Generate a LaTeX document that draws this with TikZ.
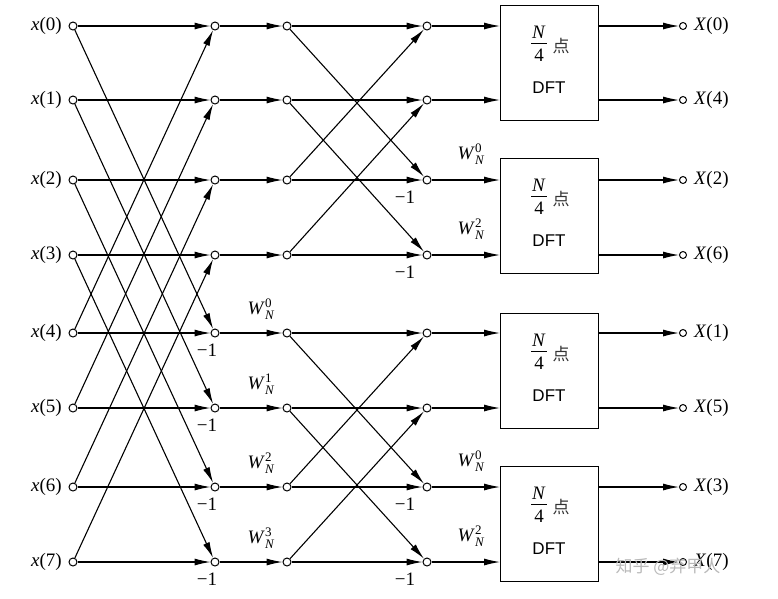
\documentclass[tikz,border=0pt]{standalone}
\usepackage{fontspec}
\setmainfont{Liberation Serif}
\newfontfamily\sansf{Liberation Sans}
\newfontfamily\cjk{Noto Sans CJK SC}
\usetikzlibrary{arrows.meta}
\newcommand\wlab[1]{\textit{W}\raisebox{-5pt}{\makebox[0pt][l]{\raisebox{12pt}{\fontsize{13}{14}\selectfont #1}}\fontsize{13}{14}\selectfont\textit{N}}}
\begin{document}
\begin{tikzpicture}[x=1pt,y=-1pt,
  pt/.style={circle,draw,line width=1pt,inner sep=0pt,minimum size=8pt,fill=white},
  ar/.style={line width=1.1pt,-{Latex[length=16pt,width=7pt]}},
  lab/.style={font=\fontsize{19}{21}\selectfont,inner sep=1pt},
  wl/.style={font=\fontsize{19}{21}\selectfont,inner sep=1pt},
  box/.style={draw,line width=1pt,minimum width=98pt,minimum height=115pt,inner sep=0pt}]
\useasboundingbox (0,0) rectangle (778,598);
\def\ys{{26,100,180,255,333,408,487,562}}
\foreach \i in {0,...,7}{
  \pgfmathsetmacro\yy{\ys[\i]}
  \node[pt] (a\i) at (73,\yy) {};
  \node[pt] (b\i) at (215,\yy) {};
  \node[pt] (c\i) at (287,\yy) {};
  \node[pt] (d\i) at (427,\yy) {};
  \node[lab,anchor=east] at (63,\yy) {\textit{x}(\i)};
}
\foreach \i in {0,...,3}{
  \pgfmathtruncatemacro\j{\i+4}
  \draw[ar] (a\i) -- (b\i);
  \draw[ar] (a\i) -- (b\j);
  \draw[ar] (a\j) -- (b\i);
  \draw[ar] (a\j) -- (b\j);
}
\foreach \i in {0,...,7}{\draw[ar] (b\i) -- (c\i);}
\foreach \g in {0,4}{
 \foreach \k in {0,1}{
  \pgfmathtruncatemacro\p{\g+\k}
  \pgfmathtruncatemacro\q{\g+\k+2}
  \draw[ar] (c\p) -- (d\p);
  \draw[ar] (c\p) -- (d\q);
  \draw[ar] (c\q) -- (d\p);
  \draw[ar] (c\q) -- (d\q);
 }}
\foreach \i in {4,...,7}{
  \pgfmathsetmacro\yy{\ys[\i]}
  \node[lab] at (207,\yy+17) {−1};}
\foreach \i in {2,3,6,7}{
  \pgfmathsetmacro\yy{\ys[\i]}
  \node[lab] at (405,\yy+17) {−1};}
\foreach \i/\e in {4/0,5/1,6/2,7/3}{
  \pgfmathsetmacro\yy{\ys[\i]}
  \node[wl] at (261,\yy-24) {\wlab{\e}};}
\foreach \i/\e in {2/0,3/2,6/0,7/2}{
  \pgfmathsetmacro\yy{\ys[\i]}
  \node[wl] at (471,\yy-26) {\wlab{\e}};}
\foreach \b/\yc/\r/\s/\ka/\kb in {1/62.5/0/1/0/4,2/215.5/2/3/2/6,3/370.5/4/5/1/5,4/523.5/6/7/3/7}{
  \node[box] (B\b) at (549,\yc) {};
  \node[lab] at (539,\yc-30) {\textit{N}};
  \draw[line width=0.8pt] (531,\yc-19) -- (547,\yc-19);
  \node[lab] at (539,\yc-7) {4};
  \node[font=\cjk\fontsize{17}{19}\selectfont,text=black!80] at (561,\yc-16) {点};
  \node[font=\sansf\fontsize{17}{19}\selectfont] at (549,\yc+25) {DFT};
  \pgfmathsetmacro\ya{\ys[\r]}
  \pgfmathsetmacro\yb{\ys[\s]}
  \coordinate (Bi\r) at (500,\ya);
  \coordinate (Bi\s) at (500,\yb);
  \coordinate (Bo\r) at (598,\ya);
  \coordinate (Bo\s) at (598,\yb);
  \node[pt,minimum size=7pt] (o\r) at (683,\ya) {};
  \node[pt,minimum size=7pt] (o\s) at (683,\yb) {};
  \draw[ar] (d\r) -- (Bi\r);
  \draw[ar] (d\s) -- (Bi\s);
  \draw[ar] (Bo\r) -- (o\r);
  \draw[ar] (Bo\s) -- (o\s);
  \node[lab,anchor=west] at (693,\ya) {\textit{X}(\ka)};
  \node[lab,anchor=west] at (693,\yb) {\textit{X}(\kb)};
}
\node[font=\cjk\fontsize{17}{19}\selectfont,text=gray!55,anchor=west] (wm) at (612,567) {知乎 @弃甲人};
\end{tikzpicture}
\end{document}
